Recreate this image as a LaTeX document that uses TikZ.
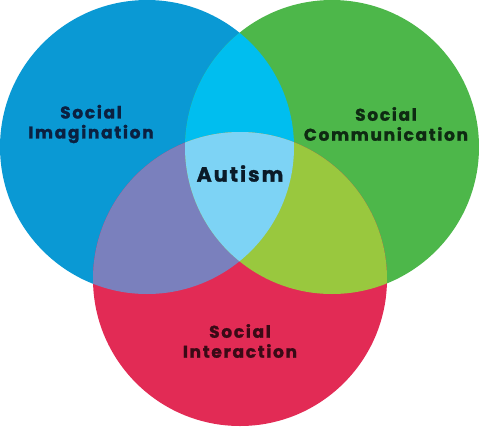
\documentclass[tikz,border=0pt]{standalone}
\usepackage{fontspec}
\setmainfont{Poppins}[LetterSpace=10, BoldFeatures={FakeBold=1.5}]
\definecolor{bleu}{HTML}{0A99D4}
\definecolor{vert}{HTML}{4DB74A}
\definecolor{rouge}{HTML}{E22B55}
\definecolor{ciel}{HTML}{00BEEF}
\definecolor{mauve}{HTML}{7A80BD}
\definecolor{citron}{HTML}{99C83E}
\definecolor{pale}{HTML}{7DD3F5}
\definecolor{encrebleu}{HTML}{0B2040}
\definecolor{encrevert}{HTML}{0E2A12}
\definecolor{encrerouge}{HTML}{3A0A16}
\definecolor{encre}{HTML}{0A1A28}
\begin{document}
\begin{tikzpicture}[x=1pt,y=-1pt]
  \tikzstyle{disque}=[circle, inner sep=0pt, minimum size=294pt]
  \tikzstyle{etiquette}=[font=\bfseries\fontsize{17}{20}\selectfont,
  align=center, inner sep=0pt]
  \useasboundingbox (0,0) rectangle (479,426);
  \foreach \n/\x/\y/\c in {imag/147/147/bleu,comm/332/147/vert,inter/240/279/rouge} {
    \node[disque, fill=\c] (\n) at (\x,\y) {};
  }
  % zones communes
  \begin{scope}
    \clip (imag.center) circle (147pt);
    \fill[ciel] (comm.center) circle (147pt);
    \fill[mauve] (inter.center) circle (147pt);
  \end{scope}
  \begin{scope}
    \clip (comm.center) circle (147pt);
    \fill[citron] (inter.center) circle (147pt);
  \end{scope}
  \begin{scope}
    \clip (imag.center) circle (147pt);
    \clip (comm.center) circle (147pt);
    \fill[pale] (inter.center) circle (147pt);
  \end{scope}
  % textes
  \node[etiquette, text=encrebleu] (timag) at (91,124) {Social\\Imagination};
  \node[etiquette, text=encrevert] (tcomm) at (386,124) {Social\\Communication};
  \node[etiquette, text=encrerouge] (tinter) at (240,341) {Social\\Interaction};
  \node[etiquette, text=encre, font=\bfseries\fontsize{20.5}{24}\selectfont] (tcentre) at (240,173.5) {Autism};
\end{tikzpicture}
\end{document}
